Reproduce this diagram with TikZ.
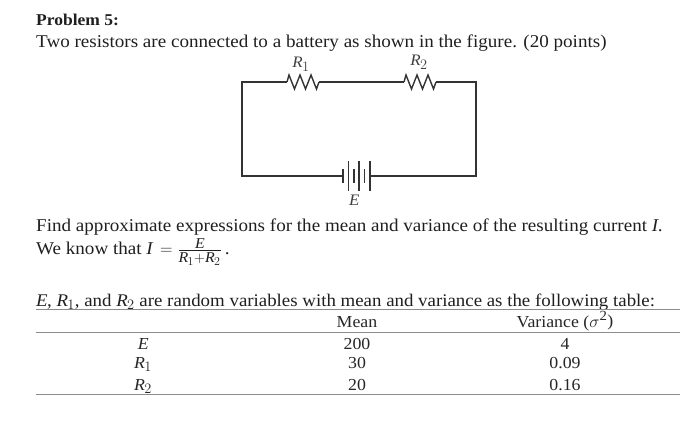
\documentclass[tikz,border=0pt]{standalone}
\usepackage{fontspec}
\setmainfont[FakeStretch=1.06]{Liberation Serif}
\usepackage[italic]{mathastext}
\def\zigzag[#1](#2){\draw[#1] (#2) -- ++(2, 7) -- ++(5.5, -14) -- ++(5.5, 14) -- ++(5.5, -14) -- ++(5.5, 14) -- ++(5.5, -14) -- ++(2.5, 7);}
\tikzset{
	wire/.style={line width=1.4pt, color=black!80},
	plate/.style={line width=1.4pt, color=black!80},
	rule/.style={line width=1pt, color=black!45},
	textline/.style={anchor=base west, inner sep=0pt, color=black!88, font=\fontsize{18}{20}\selectfont},
	cell/.style={anchor=base, inner sep=0pt, color=black!85, font=\fontsize{16.8}{20}\selectfont},
	symbol/.style={anchor=base, inner sep=0pt, color=black!75, font=\fontsize{16}{16}\selectfont}
}
\begin{document}
\begin{tikzpicture}[x=1pt, y=1pt]
		%%%%% START %%%%%
		\useasboundingbox (0, 0) rectangle (700, 423);
		
		\node[textline, font=\fontsize{16.5}{20}\selectfont\bfseries] (title) at (36, 397) {Problem 5:};
		\node[textline] (intro) at (36, 375) {Two resistors are connected to a battery as shown in the figure. (20 points)};
		
		% circuit
		\coordinate (cornerA) at (242, 341);
		\coordinate (cornerB) at (476, 341);
		\coordinate (cornerC) at (476, 247);
		\coordinate (cornerD) at (242, 247);
		\coordinate (resAin) at (287, 341);
		\coordinate (resAout) at (319, 341);
		\coordinate (resBin) at (404, 341);
		\coordinate (resBout) at (436, 341);
		\coordinate (batIn) at (343, 247);
		\coordinate (batOut) at (370, 247);
		
		\draw[wire] (batIn) -- (cornerD) -- (cornerA) -- (resAin);
		\draw[wire] (resAout) -- (resBin);
		\draw[wire] (resBout) -- (cornerB) -- (cornerC) -- (batOut);
		\zigzag[wire, line join=miter](resAin);
		\zigzag[wire, line join=miter](resBin);
		
		\draw[plate] (343, 240) -- (343, 254);
		\draw[plate] (348.5, 232) -- (348.5, 262);
		\draw[plate] (354, 240) -- (354, 254);
		\draw[plate] (359, 232) -- (359, 262);
		\draw[plate] (364.5, 240) -- (364.5, 254);
		\draw[plate] (370, 232) -- (370, 262);
		
		\node[symbol] (labelA) at (301, 355) {$R_1$};
		\node[symbol] (labelB) at (419, 357) {$R_2$};
		\node[symbol] (labelE) at (354, 217) {$E$};
		
		% question
		\node[textline] (find) at (36, 191) {Find approximate expressions for the mean and variance of the resulting current $I$.};
		\node[textline] (know) at (36, 168) {We know that $I\,=\frac{E}{\rule{0pt}{11pt}R_1+R_2}$\,.};
		\node[textline, font=\fontsize{17.8}{20}\selectfont] (given) at (36, 117) {$E$, $R_1$, and $R_2$ are random variables with mean and variance as the following table:};
		
		% table
		\draw[rule] (36, 114) -- (680, 114);
		\draw[rule] (36, 91) -- (680, 91);
		\draw[rule] (36, 29) -- (680, 29);
		
		\node[cell] (headMean) at (357, 96) {Mean};
		\node[cell] (headVar) at (565, 96) {Variance ($\sigma$\textsuperscript{2})};
		\node[cell] (rowE) at (143, 74) {$E$};
		\node[cell] (meanE) at (357, 74) {200};
		\node[cell] (varE) at (565, 74) {4};
		\node[cell] (rowA) at (143, 55) {$R_1$};
		\node[cell] (meanA) at (357, 55) {30};
		\node[cell] (varA) at (565, 55) {0.09};
		\node[cell] (rowB) at (143, 33) {$R_2$};
		\node[cell] (meanB) at (357, 33) {20};
		\node[cell] (varB) at (565, 33) {0.16};
		%%%%% END %%%%%
	\end{tikzpicture}
\end{document}
